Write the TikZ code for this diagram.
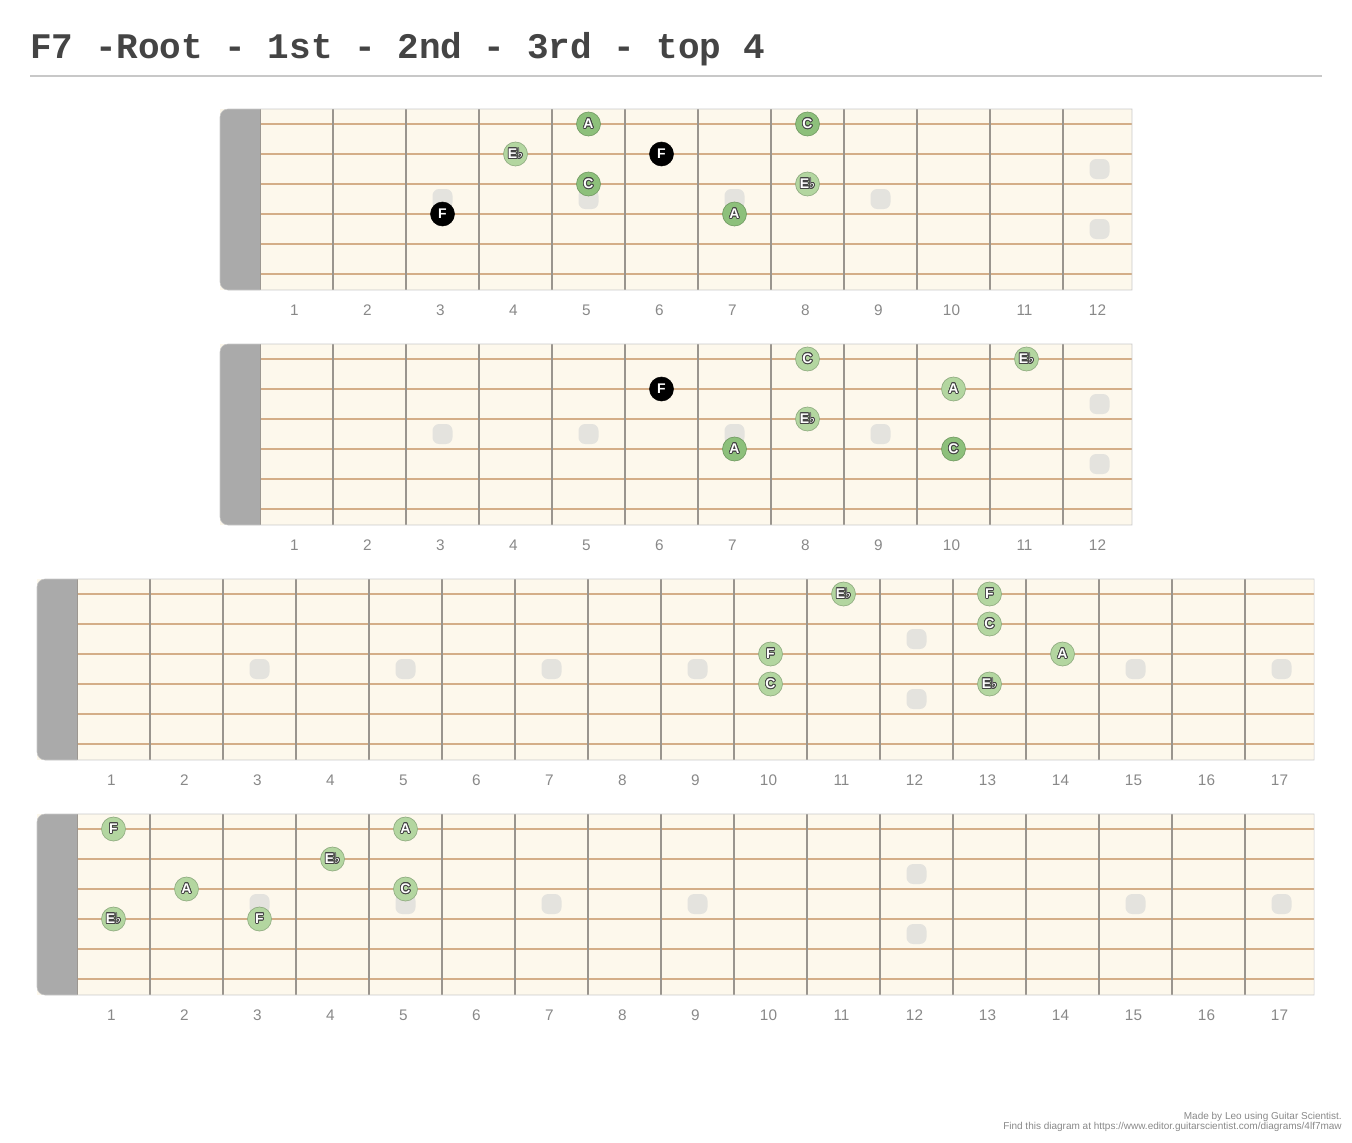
\documentclass[tikz,border=0pt]{standalone}
\usepackage{fontspec}
\setmainfont{Liberation Sans}
\setmonofont{Liberation Mono}
\newfontfamily\symfont{DejaVu Sans}
\usepackage{xcolor}
\usepackage{contour}
\contourlength{0.6pt}
\usetikzlibrary{positioning}

\definecolor{boardcol}{HTML}{FDF8EC}
\definecolor{stringcol}{HTML}{D4AE88}
\definecolor{fretcol}{HTML}{9A958E}
\definecolor{nutcol}{HTML}{AAAAAA}
\definecolor{inlaycol}{HTML}{E4E3DE}
\definecolor{edgecol}{HTML}{C8C8C8}
\definecolor{darkgreen}{HTML}{8DC07B}
\definecolor{lightgreen}{HTML}{B3D6A0}
\definecolor{titlecol}{HTML}{444444}
\definecolor{numcol}{HTML}{888888}

\newcommand{\nt}[1]{\contour{titlecol}{#1}}
\newcommand{\eb}{\nt{E\kern-0.3pt{\symfont\fontsize{10}{10}\selectfont ♭}}}

\tikzset{
  note/.style={circle, minimum size=18pt, inner sep=0pt, text=white,
    font=\bfseries\fontsize{10.5}{10.5}\selectfont},
  darknote/.style={note, fill=darkgreen, draw=darkgreen!80!black, line width=0.5pt},
  lightnote/.style={note, fill=lightgreen, draw=lightgreen!80!black, line width=0.5pt},
  rootnote/.style={note, fill=black, draw=black},
  stringline/.style={stringcol, line width=1.5pt},
  fretline/.style={fretcol, line width=2.2pt},
  inlay/.style={fill=inlaycol, rounded corners=5pt},
  fretnum/.style={text=numcol, font=\fontsize{11.5}{11.5}\selectfont},
}

\begin{document}
\begin{tikzpicture}[x=0.75pt,y=-0.75pt]
\useasboundingbox (0,0) rectangle (1352,1142);

\node[anchor=base west, text=titlecol, font=\ttfamily\bfseries\fontsize{27}{27}\selectfont, inner sep=0pt] (title) at (30,58) {F7 -Root - 1st - 2nd - 3rd - top 4};
\draw[edgecol, line width=1.5pt] (30,76) -- (1322,76);

% first board
\begin{scope}[shift={(220,109)}]
\fill[boardcol] (0,0) rectangle (912,181);
\foreach \f in {3,5,7,9} \path[inlay] ({3.5+73*\f-10},80) rectangle +(20,20);
\path[inlay] ({3.5+73*12-10},50) rectangle +(20,20);
\path[inlay] ({3.5+73*12-10},110) rectangle +(20,20);
\foreach \s in {0,...,5} \draw[stringline] (40,{15+30*\s}) -- (912,{15+30*\s});
\foreach \k in {0,...,11} \draw[fretline] ({40+73*\k},0) -- ({40+73*\k},181);
\fill[nutcol] (40,0) -- (8,0) arc[start angle=270, end angle=180, radius=8] -- (0,173) arc[start angle=180, end angle=90, radius=8] -- (40,181) -- cycle;
\draw[edgecol] (912,0) -- (8,0) arc[start angle=270, end angle=180, radius=8] -- (0,173) arc[start angle=180, end angle=90, radius=8] -- (912,181) -- cycle;
\foreach \k in {1,...,12} \node[fretnum] (a-\k) at ({3.5+73*\k-2},201) {\k};
\node[darknote] (a1) at (368.5,15) {\nt{A}};
\node[darknote] (a2) at (587.5,15) {\nt{C}};
\node[lightnote] (a3) at (295.5,45) {\eb};
\node[rootnote] (a4) at (441.5,45) {F};
\node[darknote] (a5) at (368.5,75) {\nt{C}};
\node[lightnote] (a6) at (587.5,75) {\eb};
\node[rootnote] (a7) at (222.5,105) {F};
\node[darknote] (a8) at (514.5,105) {\nt{A}};
\end{scope}

% second board
\begin{scope}[shift={(220,344)}]
\fill[boardcol] (0,0) rectangle (912,181);
\foreach \f in {3,5,7,9} \path[inlay] ({3.5+73*\f-10},80) rectangle +(20,20);
\path[inlay] ({3.5+73*12-10},50) rectangle +(20,20);
\path[inlay] ({3.5+73*12-10},110) rectangle +(20,20);
\foreach \s in {0,...,5} \draw[stringline] (40,{15+30*\s}) -- (912,{15+30*\s});
\foreach \k in {0,...,11} \draw[fretline] ({40+73*\k},0) -- ({40+73*\k},181);
\fill[nutcol] (40,0) -- (8,0) arc[start angle=270, end angle=180, radius=8] -- (0,173) arc[start angle=180, end angle=90, radius=8] -- (40,181) -- cycle;
\draw[edgecol] (912,0) -- (8,0) arc[start angle=270, end angle=180, radius=8] -- (0,173) arc[start angle=180, end angle=90, radius=8] -- (912,181) -- cycle;
\foreach \k in {1,...,12} \node[fretnum] (b-\k) at ({3.5+73*\k-2},201) {\k};
\node[lightnote] (b1) at (587.5,15) {\nt{C}};
\node[lightnote] (b2) at (806.5,15) {\eb};
\node[rootnote] (b3) at (441.5,45) {F};
\node[lightnote] (b4) at (733.5,45) {\nt{A}};
\node[lightnote] (b5) at (587.5,75) {\eb};
\node[darknote] (b6) at (514.5,105) {\nt{A}};
\node[darknote] (b7) at (733.5,105) {\nt{C}};
\end{scope}

% third board
\begin{scope}[shift={(37,579)}]
\fill[boardcol] (0,0) rectangle (1277,181);
\foreach \f in {3,5,7,9,15,17} \path[inlay] ({3.5+73*\f-10},80) rectangle +(20,20);
\path[inlay] ({3.5+73*12-10},50) rectangle +(20,20);
\path[inlay] ({3.5+73*12-10},110) rectangle +(20,20);
\foreach \s in {0,...,5} \draw[stringline] (40,{15+30*\s}) -- (1277,{15+30*\s});
\foreach \k in {0,...,16} \draw[fretline] ({40+73*\k},0) -- ({40+73*\k},181);
\fill[nutcol] (40,0) -- (8,0) arc[start angle=270, end angle=180, radius=8] -- (0,173) arc[start angle=180, end angle=90, radius=8] -- (40,181) -- cycle;
\draw[edgecol] (1277,0) -- (8,0) arc[start angle=270, end angle=180, radius=8] -- (0,173) arc[start angle=180, end angle=90, radius=8] -- (1277,181) -- cycle;
\foreach \k in {1,...,17} \node[fretnum] (c-\k) at ({3.5+73*\k-2},201) {\k};
\node[lightnote] (c1) at (806.5,15) {\eb};
\node[lightnote] (c2) at (952.5,15) {\nt{F}};
\node[lightnote] (c3) at (952.5,45) {\nt{C}};
\node[lightnote] (c4) at (733.5,75) {\nt{F}};
\node[lightnote] (c5) at (1025.5,75) {\nt{A}};
\node[lightnote] (c6) at (733.5,105) {\nt{C}};
\node[lightnote] (c7) at (952.5,105) {\eb};
\end{scope}

% fourth board
\begin{scope}[shift={(37,814)}]
\fill[boardcol] (0,0) rectangle (1277,181);
\foreach \f in {3,5,7,9,15,17} \path[inlay] ({3.5+73*\f-10},80) rectangle +(20,20);
\path[inlay] ({3.5+73*12-10},50) rectangle +(20,20);
\path[inlay] ({3.5+73*12-10},110) rectangle +(20,20);
\foreach \s in {0,...,5} \draw[stringline] (40,{15+30*\s}) -- (1277,{15+30*\s});
\foreach \k in {0,...,16} \draw[fretline] ({40+73*\k},0) -- ({40+73*\k},181);
\fill[nutcol] (40,0) -- (8,0) arc[start angle=270, end angle=180, radius=8] -- (0,173) arc[start angle=180, end angle=90, radius=8] -- (40,181) -- cycle;
\draw[edgecol] (1277,0) -- (8,0) arc[start angle=270, end angle=180, radius=8] -- (0,173) arc[start angle=180, end angle=90, radius=8] -- (1277,181) -- cycle;
\foreach \k in {1,...,17} \node[fretnum] (d-\k) at ({3.5+73*\k-2},201) {\k};
\node[lightnote] (d1) at (76.5,15) {\nt{F}};
\node[lightnote] (d2) at (368.5,15) {\nt{A}};
\node[lightnote] (d3) at (295.5,45) {\eb};
\node[lightnote] (d4) at (149.5,75) {\nt{A}};
\node[lightnote] (d5) at (368.5,75) {\nt{C}};
\node[lightnote] (d6) at (76.5,105) {\eb};
\node[lightnote] (d7) at (222.5,105) {\nt{F}};
\end{scope}

\node[anchor=base east, text=numcol, font=\fontsize{7.5}{7.5}\selectfont, inner sep=0pt] (made) at (1342,1119) {Made by Leo using Guitar Scientist.};
\node[anchor=base east, text=numcol, font=\fontsize{7.5}{7.5}\selectfont, inner sep=0pt] (link) at (1342,1129) {Find this diagram at https://www.editor.guitarscientist.com/diagrams/4lf7maw};
\end{tikzpicture}
\end{document}
